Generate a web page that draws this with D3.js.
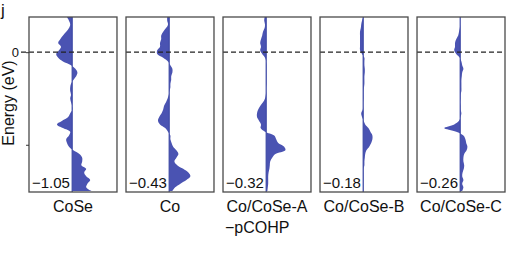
<!DOCTYPE html>
<html><head><meta charset="utf-8">
<script src="https://cdn.jsdelivr.net/npm/d3@7"></script>
<style>html,body{margin:0;padding:0;background:#fff;}svg{display:block;}</style>
</head><body>
<script>
const categories = ["CoSe", "Co", "Co/CoSe-A", "Co/CoSe-B", "Co/CoSe-C"];
const icohp = ["\u22121.05", "\u22120.43", "\u22120.32", "\u22120.18", "\u22120.26"];
const energyTicks = [0, -5];
const energyTickLabels = ["0", ""];
// energy grid (eV), 1.9 down to -7.5
const energies = d3.range(48).map(i => +(1.9 - 0.2 * i).toFixed(2));
const pcohpCoSe = [-0.13,-0.08,-0.05,-0.08,-0.15,-0.23,-0.3,-0.35,-0.28,-0.33,-0.4,-0.35,-0.23,-0.03,0.08,0.13,0.1,0.03,-0.03,-0.05,-0.05,-0.03,-0.05,-0.03,0,0.01,-0.05,-0.1,-0.25,-0.38,-0.23,-0.05,-0.08,-0.15,-0.13,-0.08,0.03,0.18,0.25,0.25,0.23,0.35,0.3,0.35,0.45,0.38,0.35,0.48];
const pcohpCo = [-0.05,-0.05,-0.03,-0.08,-0.15,-0.2,-0.2,-0.23,-0.23,-0.3,-0.3,-0.15,-0.03,0.03,0.08,0.08,0.05,0.05,0.03,0.03,0.01,-0.01,-0.04,-0.08,-0.13,-0.15,-0.19,-0.25,-0.28,-0.23,-0.1,-0.03,0.03,0.03,0.06,0.1,0.18,0.23,0.18,0.13,0.2,0.35,0.48,0.53,0.43,0.28,0.15,0.08];
const pcohpA = [-0.04,-0.05,-0.03,-0.04,-0.08,-0.1,-0.13,-0.15,-0.13,-0.15,-0.1,-0.03,0,0.01,0.01,0.01,0.01,0.01,0.01,0,0,-0.01,-0.03,-0.08,-0.15,-0.2,-0.23,-0.23,-0.18,-0.13,-0.14,-0.03,0.2,0.25,0.3,0.45,0.48,0.23,0.15,0.1,0.09,0.08,0.06,0.05,0.05,0.05,0.04,0.03];
const pcohpB = [0,-0.03,-0.05,-0.06,-0.08,-0.08,-0.08,-0.08,-0.08,-0.08,-0.03,0.03,0.03,0.03,0.04,0.04,0.03,0.03,0.03,0.02,0.01,0.01,0.01,0,0,-0.01,-0.05,-0.03,0.01,0.05,0.13,0.18,0.23,0.23,0.2,0.15,0.08,0.05,0.04,0.03,0.03,0.01,0.01,0.01,0.01,0.01,0.01,0.01];
const pcohpC = [0,0,0,-0.01,-0.03,-0.05,-0.1,-0.13,-0.13,-0.15,-0.1,-0.01,0.03,0.05,0.08,0.05,0.04,0.03,0.03,0.03,0.03,0.01,0.01,0,0.01,0.01,0.03,0.01,-0.03,-0.15,-0.4,-0.1,0.08,0.13,0.15,0.18,0.16,0.1,0.08,0.08,0.1,0.09,0.06,0.05,0.08,0.05,0.08,0.05];
const series = [pcohpCoSe, pcohpCo, pcohpA, pcohpB, pcohpC];

const W = 519, H = 257;
const font = "'Liberation Sans', Arial, Helvetica, sans-serif";
const fillColor = "#4a53b2";
const svg = d3.select("body").append("svg").attr("width", W).attr("height", H)
  .style("font-family", font);

const band = d3.scaleBand().domain(categories).range([29, 505]).paddingInner(0.093).paddingOuter(0);
const y = d3.scaleLinear().domain([1.9, -7.55]).range([17, 192]);
const x = d3.scaleLinear().domain([-1.08, 1.12]).range([0, band.bandwidth()]);

const defs = svg.append("defs");
categories.forEach((c, i) => {
  const g = svg.append("g").attr("transform", `translate(${band(c)},0)`);
  defs.append("clipPath").attr("id", "clip" + i).append("rect")
    .attr("x", 0).attr("y", y.range()[0]).attr("width", band.bandwidth()).attr("height", y.range()[1] - y.range()[0]);
  const data = energies.map((e, k) => ({e, v: series[i][k]}));
  const area = d3.area().curve(d3.curveCatmullRom.alpha(0.5))
    .y(d => y(d.e)).x0(x(0)).x1(d => x(d.v));
  g.append("path").attr("clip-path", `url(#clip${i})`).attr("d", area(data))
    .attr("fill", fillColor).attr("stroke", "none");
  g.append("line").attr("x1", x(0)).attr("x2", x(0)).attr("y1", y.range()[0]).attr("y2", y.range()[1])
    .attr("stroke", "#3e4aa6").attr("stroke-width", 1.2);
  g.append("line").attr("x1", i === 0 ? -8 : 0).attr("x2", band.bandwidth())
    .attr("y1", y(0)).attr("y2", y(0))
    .attr("stroke", "#222").attr("stroke-width", 1.3).attr("stroke-dasharray", "5,3");
  g.append("rect").attr("x", 0).attr("y", y.range()[0]).attr("width", band.bandwidth())
    .attr("height", y.range()[1] - y.range()[0]).attr("fill", "none").attr("stroke", "#4a4a4a").attr("stroke-width", 1.3);
  g.append("text").attr("x", 3).attr("y", 188).attr("font-size", 15).attr("fill", "#111").text(icohp[i]);
  g.append("text").attr("x", band.bandwidth() / 2).attr("y", 212).attr("text-anchor", "middle")
    .attr("font-size", 16).attr("fill", "#111").text(c);
});

// y axis
const axis = d3.axisLeft(y).tickValues(energyTicks).tickSize(3).tickPadding(6)
  .tickFormat((d, i) => energyTickLabels[i]);
const ag = svg.append("g").attr("transform", `translate(${band(categories[0])},0)`).call(axis);
ag.select(".domain").remove();
ag.selectAll("line").attr("stroke", "#333");
ag.selectAll("text").attr("font-size", 13).attr("font-family", font).attr("fill", "#111").attr("x", -10);

svg.append("text").attr("transform", "translate(13.5,103) rotate(-90)").attr("text-anchor", "middle")
  .attr("font-size", 16).attr("fill", "#111").text("Energy (eV)");
svg.append("text").attr("x", 1).attr("y", 16).attr("font-size", 17).attr("fill", "#111").text("j");
svg.append("text").attr("x", band(categories[2]) + 2).attr("y", 233).attr("font-size", 16)
  .attr("fill", "#111").text("\u2212pCOHP");
</script>
</body></html>
